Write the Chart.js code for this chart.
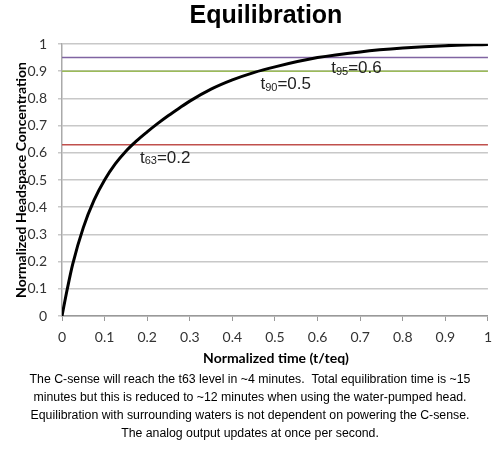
<!DOCTYPE html>
<html>
<head>
<meta charset="utf-8">
<script src="https://cdn.jsdelivr.net/npm/chart.js@4.4.1/dist/chart.umd.min.js"></script>
<style>
  html, body { margin: 0; padding: 0; background: #fff; }
  #wrap { width: 500px; height: 450px; position: relative; }
</style>
</head>
<body>
<div id="wrap"><canvas id="c" width="500" height="450"></canvas></div>
<script>
// ---- data ----
const curveT = [0, 0.0125, 0.025, 0.05, 0.075, 0.1, 0.125, 0.15, 0.175, 0.2, 0.225, 0.25, 0.275, 0.3, 0.35, 0.4, 0.45, 0.5, 0.6, 0.7, 0.8, 0.9, 1.0];
const curveY = [0, 0.1, 0.19, 0.325, 0.425, 0.5, 0.559, 0.606, 0.644, 0.677, 0.708, 0.737, 0.764, 0.79, 0.834, 0.868, 0.895, 0.916, 0.95, 0.971, 0.985, 0.994, 0.998];

const levelNames = ['63', '90', '95'];
const levelValues = [0.63, 0.9, 0.95];
const levelTimes = ['0.2', '0.5', '0.6'];
const levelColors = ['#c0504d', '#9bbb59', '#8064a2'];

const xTickLabels = ['0', '0.1', '0.2', '0.3', '0.4', '0.5', '0.6', '0.7', '0.8', '0.9', '1'];
const yTickLabels = ['0', '0.1', '0.2', '0.3', '0.4', '0.5', '0.6', '0.7', '0.8', '0.9', '1'];

const titleText = 'Equilibration';
const xTitle = 'Normalized time (t/teq)';
const yTitle = 'Normalized Headspace Concentration';
const captionLines = [
  'The C-sense will reach the t63 level in ~4 minutes.  Total equilibration time is ~15',
  'minutes but this is reduced to ~12 minutes when using the water-pumped head.',
  'Equilibration with surrounding waters is not dependent on powering the C-sense.',
  'The analog output updates at once per second.'
];

// annotation anchor points (data coordinates) for the level labels
const labelAnchorT = [0.183, 0.466, 0.632];
const labelAnchorY = [0.58, 0.851, 0.91];

// ---- build datasets ----
const datasets = [{
  data: curveT.map((t, i) => ({ x: t, y: curveY[i] })),
  borderColor: '#000',
  borderWidth: 3,
  pointRadius: 0,
  showLine: true,
  cubicInterpolationMode: 'monotone',
  fill: false
}];
levelValues.forEach((v, i) => {
  datasets.push({
    data: [{ x: 0, y: v }, { x: 1, y: v }],
    borderColor: levelColors[i],
    borderWidth: 1.5,
    pointRadius: 0,
    showLine: true,
    fill: false
  });
});

const textPlugin = {
  id: 'texts',
  afterDraw(chart) {
    const ctx = chart.ctx;
    const xs = chart.scales.x, ys = chart.scales.y;
    ctx.save();
    // title
    ctx.fillStyle = '#000';
    ctx.font = 'bold 25px "Liberation Sans", Arial, sans-serif';
    ctx.textAlign = 'center';
    ctx.textBaseline = 'alphabetic';
    ctx.fillText(titleText, 266, 23);
    // axis titles
    ctx.font = 'bold 14px Lato, sans-serif';
    ctx.fillStyle = '#000';
    ctx.textBaseline = 'middle';
    ctx.fillText(xTitle, 276, 358);
    ctx.save();
    ctx.translate(21, 180);
    ctx.rotate(-Math.PI / 2);
    ctx.fillText(yTitle, 0, 0);
    ctx.restore();
    // level labels
    levelNames.forEach((n, i) => {
      let x = xs.getPixelForValue(labelAnchorT[i]);
      const y = ys.getPixelForValue(labelAnchorY[i]);
      ctx.fillStyle = '#222';
      ctx.textAlign = 'left';
      ctx.textBaseline = 'middle';
      ctx.font = '17px "Liberation Sans", Arial, sans-serif';
      ctx.fillText('t', x, y);
      x += ctx.measureText('t').width;
      ctx.font = '11px "Liberation Sans", Arial, sans-serif';
      ctx.fillText(n, x, y + 3);
      x += ctx.measureText(n).width;
      ctx.font = '17px "Liberation Sans", Arial, sans-serif';
      ctx.fillText('=' + levelTimes[i], x, y);
    });
    // caption
    ctx.fillStyle = '#000';
    ctx.font = '12.3px "Liberation Sans", Arial, sans-serif';
    ctx.textAlign = 'center';
    ctx.textBaseline = 'middle';
    captionLines.forEach((l, i) => ctx.fillText(l, 250, 379.5 + i * 18.2));
    ctx.restore();
  }
};

new Chart(document.getElementById('c'), {
  type: 'scatter',
  data: { datasets },
  options: {
    responsive: false,
    animation: false,
    layout: { padding: { top: 44, right: 4, left: 0, bottom: 0 } },
    plugins: { legend: { display: false }, tooltip: { enabled: false }, title: { display: false } },
    scales: {
      x: {
        type: 'linear', min: 0, max: 1,
        afterFit(s) { s.height = 134; },
        ticks: {
          stepSize: 0.1, padding: 8, color: '#333',
          font: { family: 'Lato', size: 14 },
          callback: (v, i) => xTickLabels[i]
        },
        grid: { drawOnChartArea: false, drawTicks: true, tickLength: 5, color: '#999', lineWidth: 1 },
        border: { color: '#999', width: 1.5 }
      },
      y: {
        type: 'linear', min: 0, max: 1,
        afterFit(s) { s.width = 62; },
        ticks: {
          stepSize: 0.1, padding: 11, color: '#333',
          font: { family: 'Lato', size: 14 },
          callback: (v, i) => yTickLabels[i]
        },
        grid: { color: '#c8c8c8', lineWidth: 1.5, tickLength: 4 },
        border: { color: '#aaa', width: 1.5 }
      }
    }
  },
  plugins: [textPlugin]
});
</script>
</body>
</html>
